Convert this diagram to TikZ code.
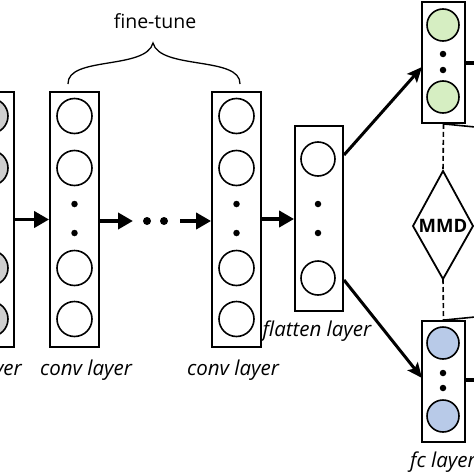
\documentclass[tikz,border=0pt]{standalone}
\usepackage{fontspec}
\setmainfont{Open Sans}
\usetikzlibrary{arrows.meta,calc}
\definecolor{ingray}{HTML}{CFCFCF}
\definecolor{fcgreen}{HTML}{D6EEC2}
\definecolor{fcblue}{HTML}{B8CAE8}
\begin{document}
\begin{tikzpicture}[x=1pt,y=-1pt,
  layerbox/.style={draw,line width=1.8pt,minimum width=#1,inner sep=0pt},
  unit/.style={circle,draw,line width=1.6pt,minimum size=#1,inner sep=0pt},
  blob/.style={circle,fill=black,minimum size=6.5pt,inner sep=0pt},
  bigarrow/.style={line width=3.8pt,-{Triangle[length=15pt,width=16pt]}},
  midarrow/.style={line width=3pt,-{Stealth[length=15pt,width=13pt,inset=3pt]}},
  lbl/.style={font=\fontsize{20.5}{24}\selectfont\itshape,inner sep=0pt},
  thinline/.style={line width=1.6pt},
  stub/.style={line width=3.5pt}]
\useasboundingbox (0,0) rectangle (474,474);

% input layer (cut off)
\node[layerbox=48pt,minimum height=255pt] (in) at (-10,219.5) {};
\foreach \yy/\nm in {116/a,168/b,268/c,319/d}
  \node[unit=35pt,fill=ingray] (in\nm) at (-9.5,\yy) {};
% conv layer 1
\node[layerbox=49pt,minimum height=255pt] (c1) at (74.5,219.5) {};
\foreach \yy/\nm in {116/a,168/b,268/c,319/d}
  \node[unit=35pt] (c1\nm) at (74.5,\yy) {};
\node[blob] (c1p) at (74.5,204) {};
\node[blob] (c1q) at (74.5,233) {};
% conv layer 2
\node[layerbox=49pt,minimum height=255pt] (c2) at (236.5,219.5) {};
\foreach \yy/\nm in {116/a,168/b,268/c,319/d}
  \node[unit=35pt] (c2\nm) at (236.5,\yy) {};
\node[blob] (c2p) at (236.5,204) {};
\node[blob] (c2q) at (236.5,233) {};
% flatten layer
\node[layerbox=48pt,minimum height=185pt] (fl) at (319,218.5) {};
\node[unit=34pt] (fla) at (318,159) {};
\node[unit=34pt] (flb) at (318,278) {};
\node[blob] (flp) at (318,204) {};
\node[blob] (flq) at (318,233) {};
% fc layer top
\node[layerbox=43pt,minimum height=121pt] (ft) at (443.5,62.5) {};
\node[unit=32pt,fill=fcgreen] (fta) at (443,25) {};
\node[unit=32pt,fill=fcgreen] (ftb) at (443,97) {};
\node[blob] (ftp) at (443,54) {};
\node[blob] (ftq) at (443,70) {};
% fc layer bottom
\node[layerbox=43pt,minimum height=121pt] (fb) at (443.5,381.5) {};
\node[unit=32pt,fill=fcblue] (fba) at (443,343) {};
\node[unit=32pt,fill=fcblue] (fbb) at (443,416) {};
\node[blob] (fbp) at (443,373) {};
\node[blob] (fbq) at (443,388) {};

% middle dots between conv layers
\node[blob,minimum size=8pt] (m1) at (147,221) {};
\node[blob,minimum size=8pt] (m2) at (164,221) {};
\coordinate (m1l) at (133,221);
\coordinate (m2r) at (180,221);

% arrows
\draw[bigarrow] (in.east) -- (c1.west);
\draw[bigarrow] (c1.east |- m1l) -- (m1l);
\draw[bigarrow] (m2r) -- (c2.west |- m2r);
\draw[bigarrow] (c2.east |- 0,219) -- (fl.west |- 0,219);
\coordinate (fo1) at (344,155);
\coordinate (fo2) at (344,280);
\coordinate (ti1) at (422,67);
\coordinate (ti2) at (422,378);
\draw[midarrow] (fo1) -- (ti1);
\draw[midarrow] (fo2) -- (ti2);

% MMD diamond
\coordinate (dt) at (443,171);
\coordinate (dr) at (473,226);
\coordinate (db) at (443,279);
\coordinate (dl) at (413,226);
\draw[line width=1.8pt,line join=miter] (dt) -- (dr) -- (db) -- (dl) -- cycle;
\node[font=\fontsize{18.5}{20}\selectfont\bfseries,inner sep=0pt] (mmd) at (443,226) {MMD};
\draw[thinline,dash pattern=on 5pt off 3pt] (ft.south) -- (dt);
\draw[thinline,dash pattern=on 5pt off 3pt] (db) -- (fb.north);

% lines leaving to the right
\coordinate (r1) at (480,63);
\coordinate (r2) at (480,380);
\coordinate (r3) at (480,127.5);
\coordinate (r4) at (480,316.5);
\draw[stub] (ft.east |- r1) -- (r1);
\draw[stub] (fb.east |- r2) -- (r2);
\draw[thinline] (ft.south) -- (r3);
\draw[thinline] (fb.north) -- (r4);

% brace
\coordinate (bl) at (68,84);
\coordinate (bt) at (153,43);
\coordinate (br) at (240,84);
\draw[line width=1.3pt] (bl) .. controls (67,56) and (146,70) .. (bt)
  .. controls (160,70) and (241,56) .. (br);
\node[font=\fontsize{19.5}{22}\selectfont,inner sep=0pt] (ft1) at (155,21) {fine-tune};

% labels
\node[lbl,anchor=east] (l0) at (22,370) {layer};
\node[lbl] (l1) at (86,370) {conv layer};
\node[lbl] (l2) at (233,370) {conv layer};
\node[lbl] (l3) at (317,331) {flatten layer};
\node[lbl,anchor=west] (l4) at (410,462) {fc layer};
\end{tikzpicture}
\end{document}
